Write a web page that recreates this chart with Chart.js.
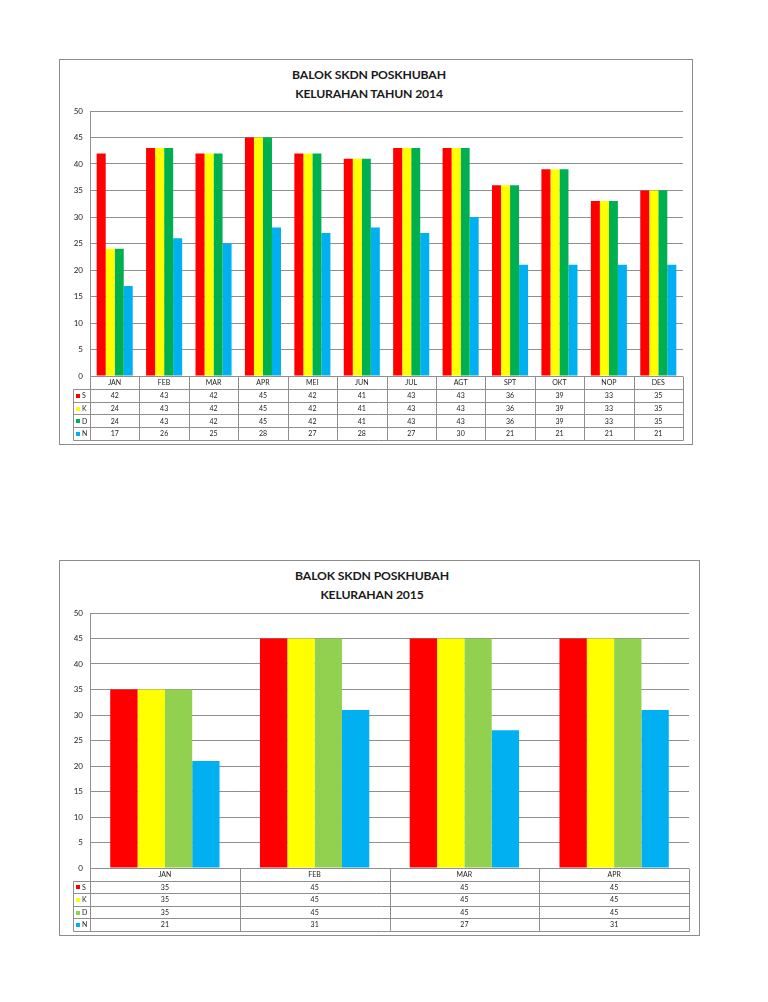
<!DOCTYPE html>
<html>
<head>
<meta charset="utf-8">
<script src="https://cdn.jsdelivr.net/npm/chart.js@4.4.1/dist/chart.umd.min.js"></script>
<style>
  body { margin: 0; background: #fff; width: 768px; height: 1002px; position: relative; font-family: 'Lato', sans-serif; }
  .bingkai { position: absolute; border: 1px solid #8c8c8c; box-sizing: border-box; }
  .judul { position: absolute; width: 300px; text-align: center; font-weight: bold; font-size: 12.2px; letter-spacing: -0.15px; line-height: 19px; color: #1a1a1a; }
  canvas { position: absolute; }
</style>
</head>
<body>
<div class="bingkai" style="left:59px;top:59px;width:634px;height:386px;"></div>
<div class="judul" style="left:219px;top:65px;">BALOK SKDN POSKHUBAH<br>KELURAHAN TAHUN 2014</div>
<canvas id="chart2014" width="632" height="384" style="left:60px;top:60px;"></canvas>

<div class="bingkai" style="left:59px;top:560px;width:641px;height:376px;"></div>
<div class="judul" style="left:222px;top:566px;">BALOK SKDN POSKHUBAH<br>KELURAHAN 2015</div>
<canvas id="chart2015" width="639" height="374" style="left:60px;top:561px;"></canvas>

<script>
// data 2014
const bulan2014 = ['JAN', 'FEB', 'MAR', 'APR', 'MEI', 'JUN', 'JUL', 'AGT', 'SPT', 'OKT', 'NOP', 'DES'];
const s2014 = [42, 43, 42, 45, 42, 41, 43, 43, 36, 39, 33, 35];
const k2014 = [24, 43, 42, 45, 42, 41, 43, 43, 36, 39, 33, 35];
const d2014 = [24, 43, 42, 45, 42, 41, 43, 43, 36, 39, 33, 35];
const n2014 = [17, 26, 25, 28, 27, 28, 27, 30, 21, 21, 21, 21];

// data 2015
const bulan2015 = ['JAN', 'FEB', 'MAR', 'APR'];
const s2015 = [35, 45, 45, 45];
const k2015 = [35, 45, 45, 45];
const d2015 = [35, 45, 45, 45];
const n2015 = [21, 31, 27, 31];

const garis = '#8f8f8f';
const fontKecil = "'Lato', sans-serif";

// tabel data di bawah grafik (seperti data table excel)
const tabelPlugin = {
    id: 'tabelData',
    afterDraw(chart) {
        const { ctx, chartArea } = chart;
        const x = chart.scales.x;
        const labels = chart.data.labels;
        const sets = chart.data.datasets;
        const n = labels.length;
        const colW = chartArea.width / n;
        const top = chartArea.bottom;
        const rowH = x.height / (sets.length + 1);
        const bottom = top + rowH * (sets.length + 1);
        const keyLeft = chartArea.left - 17;
        const px = v => Math.round(v) + 0.5;

        ctx.save();
        ctx.strokeStyle = garis;
        ctx.lineWidth = 1;
        ctx.beginPath();
        for (let r = 1; r <= sets.length + 1; r++) {
            const y = px(top + r * rowH);
            ctx.moveTo(px(keyLeft), y);
            ctx.lineTo(px(chartArea.right), y);
        }
        for (let i = 0; i <= n; i++) {
            const xx = px(chartArea.left + i * colW);
            ctx.moveTo(xx, px(top));
            ctx.lineTo(xx, px(bottom));
        }
        ctx.moveTo(px(keyLeft), px(top + rowH));
        ctx.lineTo(px(keyLeft), px(bottom));
        ctx.stroke();

        ctx.fillStyle = '#222';
        ctx.font = '7px ' + fontKecil;
        ctx.textAlign = 'center';
        ctx.textBaseline = 'middle';
        labels.forEach((lab, i) => {
            ctx.fillText(lab, chartArea.left + (i + 0.5) * colW, top + rowH / 2 + 0.5);
        });
        sets.forEach((ds, r) => {
            const yc = top + (r + 1.5) * rowH + 0.5;
            ds.data.forEach((v, i) => {
                ctx.fillText(String(v), chartArea.left + (i + 0.5) * colW, yc);
            });
            ctx.fillStyle = ds.backgroundColor;
            ctx.fillRect(keyLeft + 3, Math.round(yc) - 2, 4, 4);
            ctx.fillStyle = '#222';
            ctx.textAlign = 'left';
            ctx.fillText(ds.label, keyLeft + 9, yc);
            ctx.textAlign = 'center';
        });
        ctx.restore();
    }
};

function buatGrafik(id, labels, s, k, d, nn, hijau, tinggiTabel, pad) {
    return new Chart(document.getElementById(id), {
        type: 'bar',
        data: {
            labels: labels,
            datasets: [
                { label: 'S', data: s, backgroundColor: '#FF0000' },
                { label: 'K', data: k, backgroundColor: '#FFFF00' },
                { label: 'D', data: d, backgroundColor: hijau },
                { label: 'N', data: nn, backgroundColor: '#00B0F0' }
            ]
        },
        options: {
            responsive: false,
            animation: false,
            categoryPercentage: 0.73,
            barPercentage: 1,
            layout: { padding: pad },
            plugins: {
                legend: { display: false },
                tooltip: { enabled: false },
                title: { display: false }
            },
            scales: {
                x: {
                    grid: { display: false },
                    border: { display: false },
                    ticks: { display: false },
                    afterFit: scale => { scale.height = tinggiTabel; }
                },
                y: {
                    min: 0,
                    max: 50,
                    ticks: { stepSize: 5, padding: 7, color: '#222', font: { size: 8, family: fontKecil } },
                    grid: { color: garis, drawTicks: false },
                    border: { display: true, color: garis },
                    afterFit: scale => { scale.width = 30; }
                }
            }
        },
        plugins: [tabelPlugin]
    });
}

buatGrafik('chart2014', bulan2014, s2014, k2014, d2014, n2014, '#00B050', 64,
    { top: 51, right: 9, bottom: 4, left: 0 });
buatGrafik('chart2015', bulan2015, s2015, k2015, d2015, n2015, '#92D050', 63,
    { top: 52, right: 10, bottom: 4, left: 0 });
</script>
</body>
</html>
